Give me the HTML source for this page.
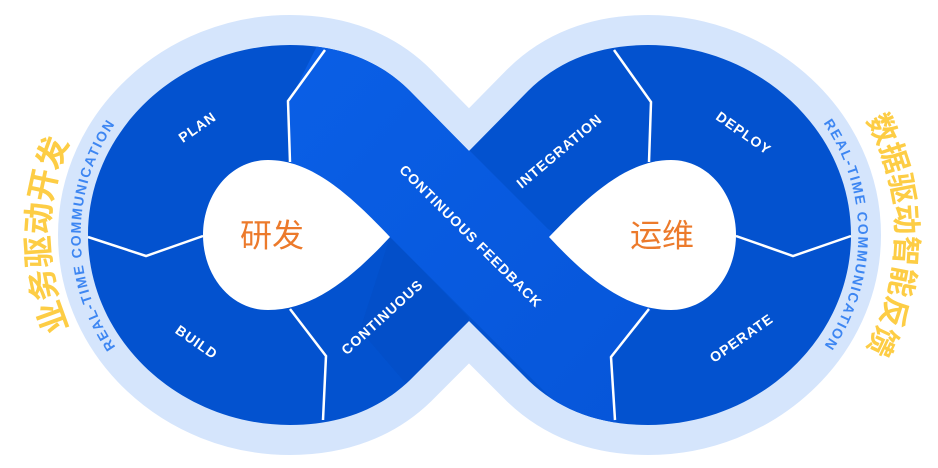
<!DOCTYPE html>
<html><head><meta charset="utf-8">
<style>
html,body{margin:0;padding:0;background:#fff;}
svg{display:block;}
.lbl{font-family:"Liberation Sans",sans-serif;font-weight:bold;font-size:14px;fill:#fff;letter-spacing:1px;}
.cn{font-family:"Liberation Sans","Noto Sans CJK SC",sans-serif;}
</style></head>
<body>
<svg width="938" height="468" viewBox="0 0 938 468" xmlns="http://www.w3.org/2000/svg">
<defs>
<path id="outer" d="M469,151 L410,91 C380,61 340,45 290,45 C180,45 88,130 88,235 C88,340 180,425 290,425 C340,425 380,409 410,380 L469,321 L528,380 C558,409 598,425 648,425 C758,425 851,340 851,235 C851,130 758,45 648,45 C598,45 558,61 528,91 Z"/>
<clipPath id="cl"><use href="#outer"/></clipPath>
<linearGradient id="bg" x1="0" y1="0" x2="1" y2="1">
<stop offset="0" stop-color="#0a5fe6"/><stop offset="1" stop-color="#0655d8"/>
</linearGradient>
<path id="arcL" d="M150,385 A197,197 0 0 1 150,85"/>
<path id="arcR" d="M789,85 A197,197 0 0 1 789,385"/>
<path id="arcLY" d="M130,410 A230,230 0 0 1 130,60"/>
<path id="arcRY" d="M800,45 A236,236 0 0 1 800,425"/>
</defs>
<use href="#outer" fill="none" stroke="#d5e5fc" stroke-width="60" stroke-linejoin="miter" stroke-miterlimit="4"/>
<use href="#outer" fill="#0352cf"/>
<g clip-path="url(#cl)">
<polygon points="390,237 469,318 469,340 420,400 360,330" fill="#034bc4" opacity="0.5"/>
<polygon points="325,30 290,100 290,162 390,237 625,472 615,417 611,357 660,300 548,229 359,40" fill="url(#bg)"/>
</g>
<path d="M390,237 C350,195 312,160 268,160 C230,160 203,195 203,235 C203,275 230,310 268,310 C312,310 350,280 390,237 Z" fill="#fff"/>
<path d="M549,237 C589,195 627,160 671,160 C709,160 736,195 736,235 C736,275 709,310 671,310 C627,310 589,280 549,237 Z" fill="#fff"/>
<g fill="none" stroke="#fff" stroke-width="2.5" stroke-linejoin="miter">
<polyline points="325,50 288,101 290,162"/>
<polyline points="88,237 146,256 203,236"/>
<polyline points="290,309 326,356 323,420"/>
<polyline points="614,50 651,102 649,162"/>
<polyline points="851,236 793,256 736,236"/>
<polyline points="649,309 611,357 615,420"/>
</g>
<text class="lbl" transform="translate(198,128) rotate(-35)" text-anchor="middle" dominant-baseline="middle">PLAN</text>
<text class="lbl" transform="translate(196,343) rotate(35)" text-anchor="middle" dominant-baseline="middle">BUILD</text>
<text class="lbl" transform="translate(383,318) rotate(-42)" text-anchor="middle" dominant-baseline="middle">CONTINUOUS</text>
<text class="lbl" transform="translate(470,237) rotate(45)" text-anchor="middle" dominant-baseline="middle">CONTINUOUS FEEDBACK</text>
<text class="lbl" transform="translate(560,152) rotate(-40)" text-anchor="middle" dominant-baseline="middle">INTEGRATION</text>
<text class="lbl" transform="translate(743,134) rotate(35)" text-anchor="middle" dominant-baseline="middle">DEPLOY</text>
<text class="lbl" transform="translate(742,339) rotate(-35)" text-anchor="middle" dominant-baseline="middle">OPERATE</text>
<text class="cn" x="272" y="238" font-size="32" fill="#ec7a2b" text-anchor="middle" dominant-baseline="middle">研发</text>
<text class="cn" x="662" y="238" font-size="32" fill="#ec7a2b" text-anchor="middle" dominant-baseline="middle">运维</text>
<text font-family="Liberation Sans, sans-serif" font-weight="bold" font-size="14" fill="#3d86f2" letter-spacing="1.6"><textPath href="#arcL" startOffset="50%" text-anchor="middle">REAL-TIME COMMUNICATION</textPath></text>
<text font-family="Liberation Sans, sans-serif" font-weight="bold" font-size="14" fill="#3d86f2" letter-spacing="1.6"><textPath href="#arcR" startOffset="50%" text-anchor="middle">REAL-TIME COMMUNICATION</textPath></text>
<text class="cn" font-size="32" font-weight="bold" fill="#fdcd45"><textPath href="#arcLY" startOffset="50%" text-anchor="middle">业务驱动开发</textPath></text>
<text class="cn" font-size="30" font-weight="bold" fill="#fdcd45"><textPath href="#arcRY" startOffset="50%" text-anchor="middle">数据驱动智能反馈</textPath></text>
</svg>
</body></html>
